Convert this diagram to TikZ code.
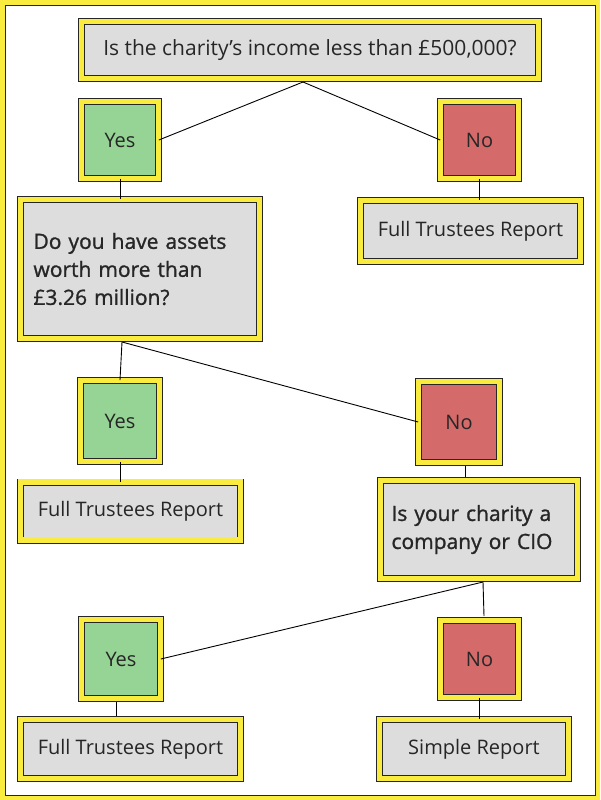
\documentclass[tikz,border=0pt]{standalone}
\usepackage{fontspec}
\setmainfont{Open Sans}
\definecolor{frameyellow}{HTML}{FAEB3F}
\definecolor{boxgrey}{HTML}{DDDDDD}
\definecolor{yesgreen}{HTML}{96D496}
\definecolor{nored}{HTML}{D46A6A}
\tikzset{
  framed/.style={draw=black!85, double=frameyellow, double distance=5.6pt, line width=0.7pt,
    inner sep=0pt, font=\fontsize{20pt}{28pt}\selectfont, text=black!85},
  question/.style={framed, fill=boxgrey, font=\fontsize{21pt}{28pt}\selectfont\addfontfeatures{FakeBold=1.2}},
  report/.style={framed, fill=boxgrey, minimum height=58pt},
  yesbox/.style={framed, fill=yesgreen, minimum width=77pt, minimum height=77pt},
  nobox/.style={framed, fill=nored, minimum width=78pt, minimum height=77pt},
  link/.style={line width=0.9pt}
}
\begin{document}
\begin{tikzpicture}[x=1pt,y=-1pt]
  \useasboundingbox (0,0) rectangle (600,800);
  \draw[frameyellow, line width=5pt] (2.5,2.5) rectangle (597.5,797.5);
  \draw[black!85, line width=0.8pt] (5,5) rectangle (595,795);
  % first question
  \node[framed, fill=boxgrey, font=\fontsize{21pt}{28pt}\selectfont, minimum width=457pt, minimum height=57pt] (q1) at (310,50) {Is the charity's income less than £500,000?};
  \node[yesbox] (yes1) at (120,140) {Yes};
  \node[nobox] (no1) at (479.5,140) {No};
  \node[report, minimum width=220pt, minimum height=61pt] (full1) at (470.5,231) {Full Trustees Report};
  % second question
  \node[question, minimum width=239pt, minimum height=139pt, align=left, text width=213pt] (q2) at (140,269)
    {Do you have assets\\worth more than\\£3.26 million?\\[6pt]};
  \node[yesbox, minimum width=79pt, minimum height=81pt] (yes2) at (120,421) {Yes};
  \node[nobox, minimum width=81pt, minimum height=81pt] (no2) at (459,422) {No};
  \node[report, minimum width=220pt] (full2) at (130.5,511) {Full Trustees Report};
  % third question
  \node[question, minimum width=197pt, minimum height=98pt, align=left, text width=175pt] (q3) at (479,529.5)
    {Is your charity a\\company or CIO\\[8pt]};
  \node[yesbox, minimum width=79pt, minimum height=79pt] (yes3) at (121,659) {Yes};
  \node[nobox] (no3) at (479.5,659) {No};
  \node[report, minimum width=220pt, minimum height=59pt] (full3) at (130.5,749) {Full Trustees Report};
  \node[report, minimum width=189pt, minimum height=59pt] (simple) at (474,749) {Simple Report};
  % connectors
  \coordinate (q1b) at (303,82);
  \draw[link] (q1b) -- (yes1.east);
  \draw[link] (q1b) -- (no1.west);
  \draw[link] (yes1.south) -- (yes1.south |- q2.north);
  \draw[link] (no1.south) -- (no1.south |- full1.north);
  \coordinate (q2b) at (122,342);
  \draw[link] (q2b) -- (yes2.north);
  \draw[link] (q2b) -- (no2.west);
  \draw[link] (yes2.south) -- (yes2.south |- full2.north);
  \draw[link] (465,466) -- (465,477);
  \coordinate (q3b) at (483,582);
  \draw[link] (q3b) -- (yes3.east);
  \draw[link] (q3b) -- (484,616);
  \draw[link] (116,702) -- (116,716);
  \draw[link] (no3.south) -- (no3.south |- simple.north);
\end{tikzpicture}
\end{document}
